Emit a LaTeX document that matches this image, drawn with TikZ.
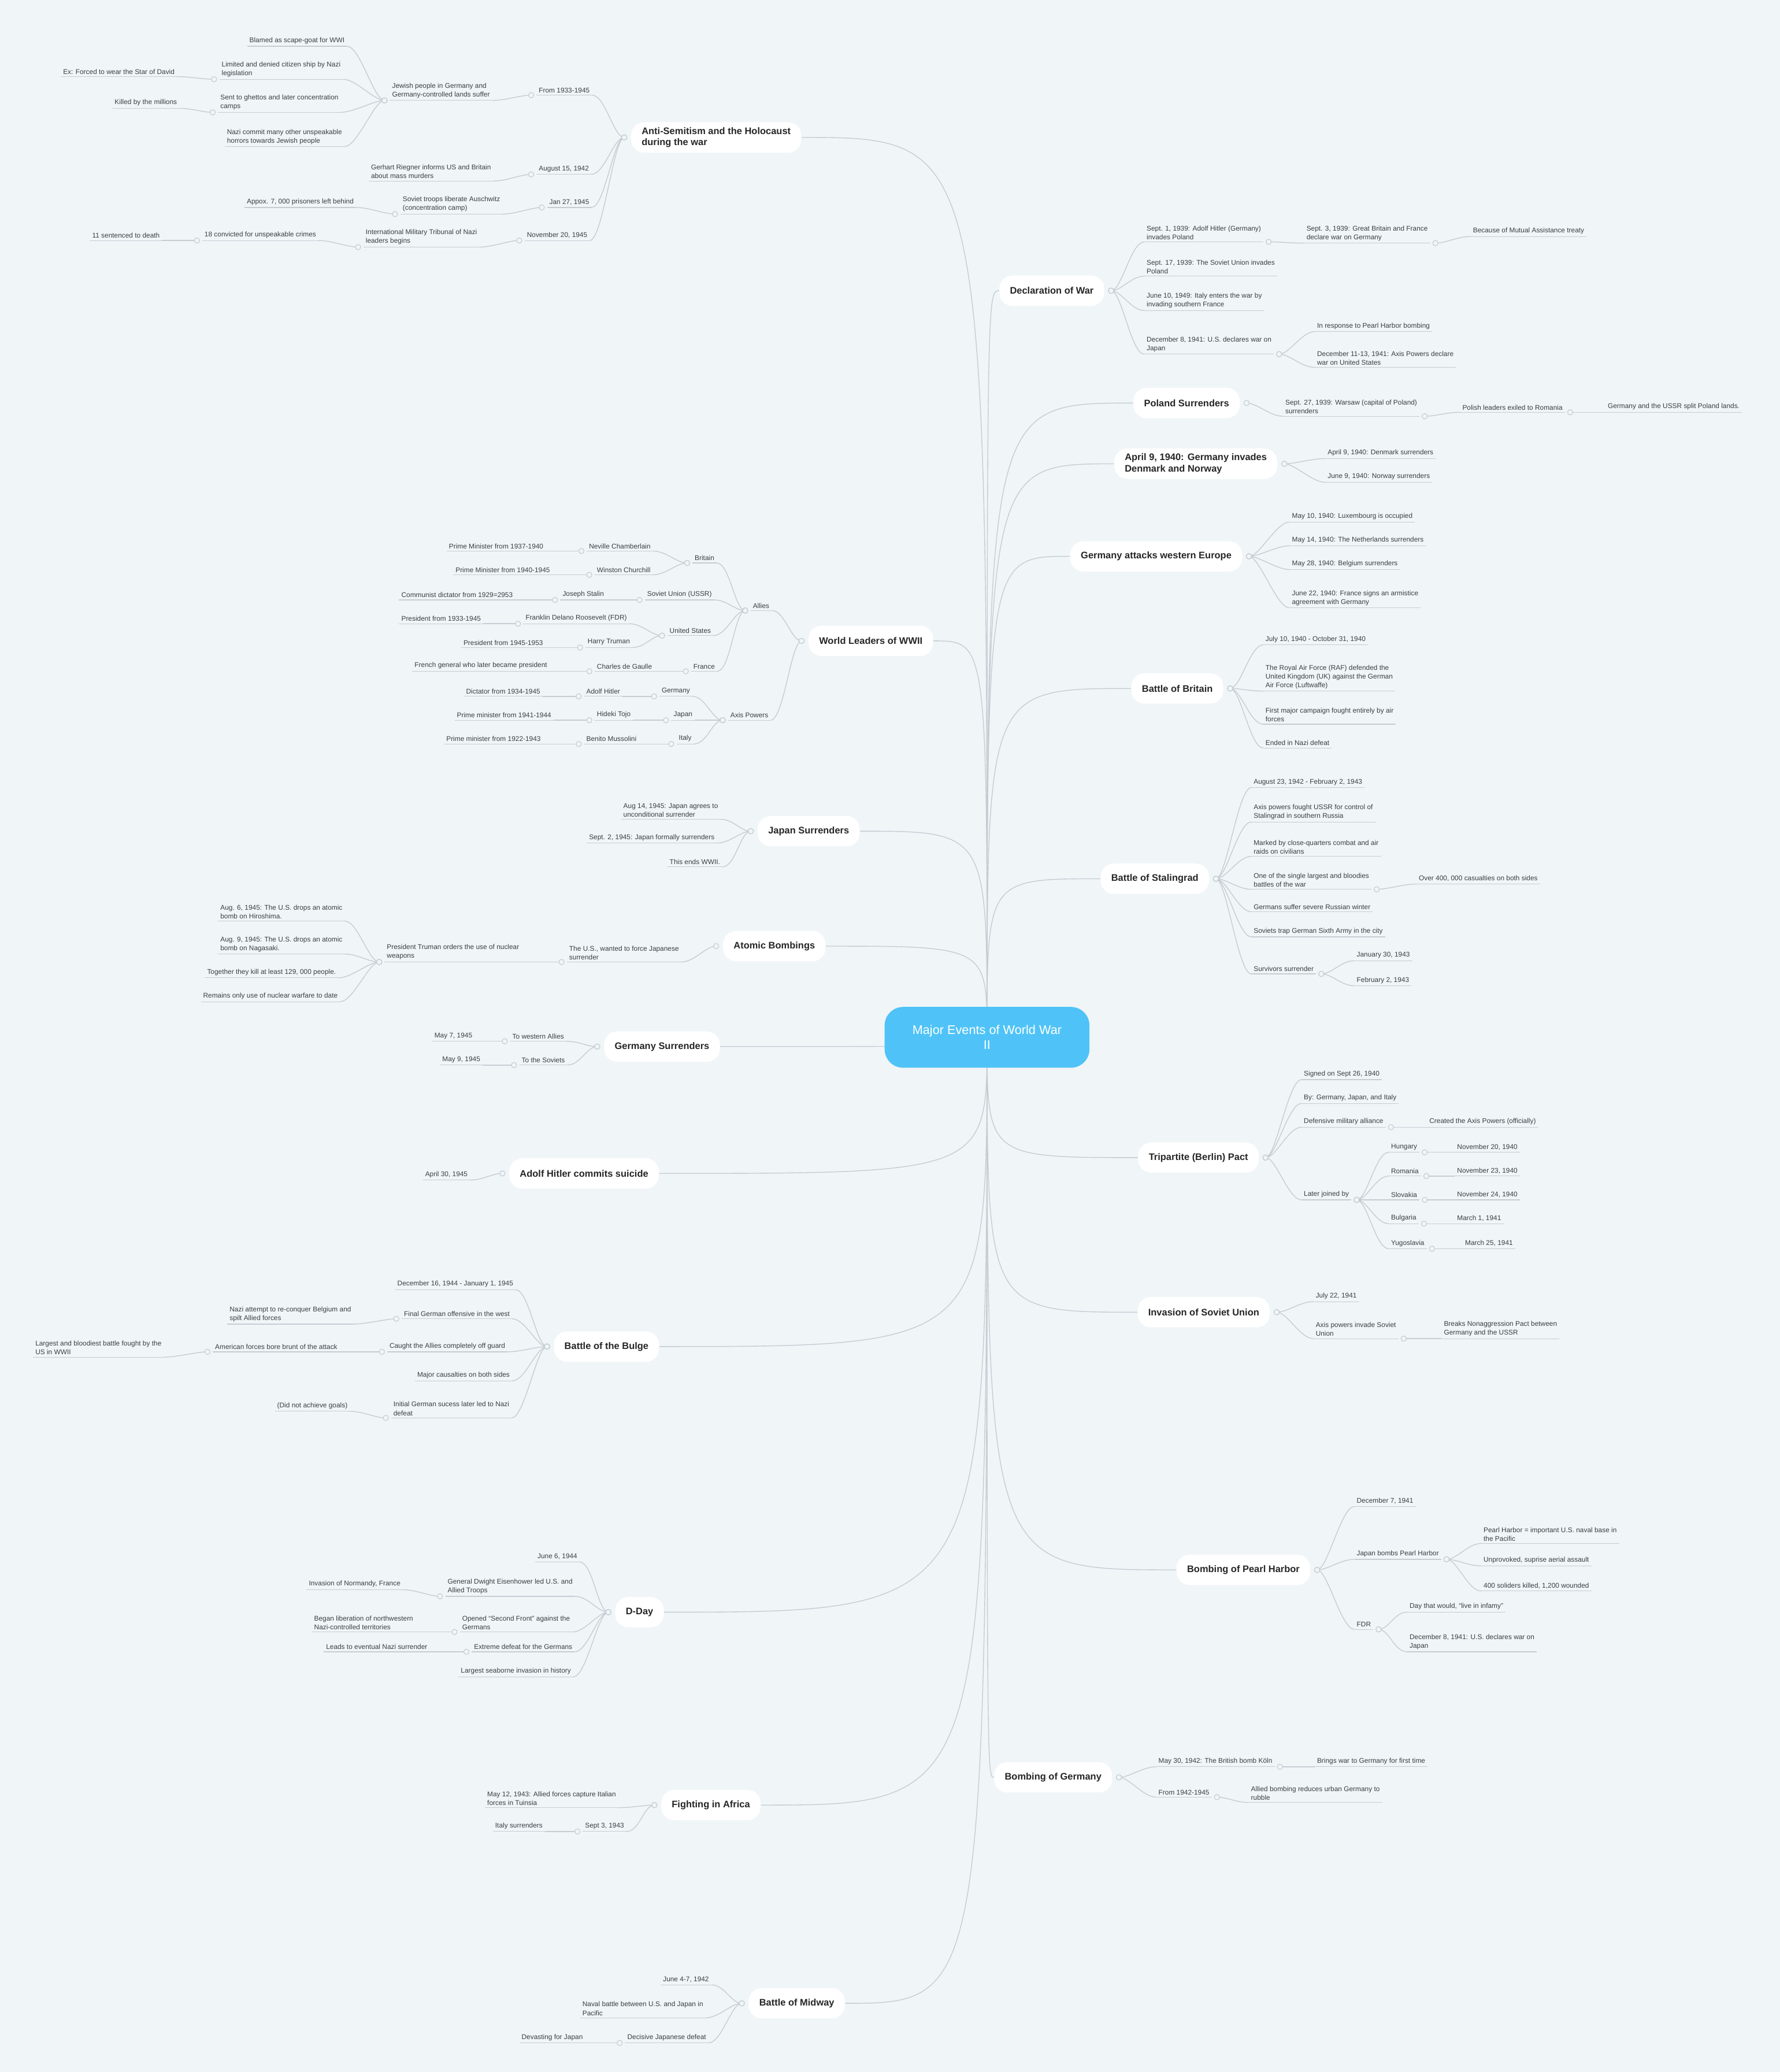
\documentclass[tikz,border=0pt]{standalone}
\usepackage{fontspec}
\setmainfont{Liberation Sans}
\usetikzlibrary{backgrounds}
\definecolor{bg}{HTML}{F0F5F8}
\definecolor{lc}{HTML}{C5CDD3}
\definecolor{cb}{HTML}{4FC3F7}
\definecolor{tx}{HTML}{3A3F44}
\tikzset{
 leaf/.style={anchor=south west,font=\fontsize{5.2}{6.6}\selectfont,text=tx,align=left,inner sep=1.6pt,
   append after command={(\tikzlastnode.south west) edge[draw=lc,line width=0.5pt] (\tikzlastnode.south east)}},
 topic/.style={fill=white,rounded corners=10pt,font=\bfseries\fontsize{7.2}{8.6}\selectfont,text=black!85,align=left,inner xsep=8pt,minimum height=23pt},
 con/.style={draw=lc,line width=0.6pt},
 dotc/.style={draw=lc,fill=bg,line width=0.5pt}
}
\newcommand\cR[2]{\draw[con] ([xshift=4pt]#1.south east) .. controls +(8,0) and +(-10,0) .. (#2.south west);\draw[dotc] ([xshift=4pt]#1.south east) circle (2);}
\newcommand\cL[2]{\draw[con] ([xshift=-4pt]#1.south west) .. controls +(-8,0) and +(10,0) .. (#2.south east);\draw[dotc] ([xshift=-4pt]#1.south west) circle (2);}
\newcommand\tR[2]{\draw[con] ([xshift=5pt]#1.east) .. controls +(8,0) and +(-10,0) .. (#2.south west);\draw[dotc] ([xshift=5pt]#1.east) circle (2);}
\newcommand\tL[2]{\draw[con] ([xshift=-5pt]#1.west) .. controls +(-8,0) and +(10,0) .. (#2.south east);\draw[dotc] ([xshift=-5pt]#1.west) circle (2);}
\newcommand\cenR[2]{\draw[con] (747,785) .. controls (747,#2) .. (#1.west);}
\newcommand\cenL[2]{\draw[con] (747,785) .. controls (747,#2) .. (#1.east);}
\newcommand\lf[4]{\node[leaf] (#1) at (#2,#3) {#4};}
\begin{document}
\begin{tikzpicture}[x=1pt,y=-1pt]
\begin{scope}[on background layer]
\fill[bg] (0,0) rectangle (1347,1568);
\end{scope}
\useasboundingbox (0,0) rectangle (1347,1568);
\node[fill=cb,rounded corners=14pt,minimum width=155pt,minimum height=46pt,align=center,text=white,font=\fontsize{9.5}{11.5}\selectfont] (C) at (747,785) {Major Events of World War\\II};
% topics
\node[topic] (D1) at (796,220) {Declaration of War};
\node[topic] (P) at (898,305) {Poland Surrenders};
\node[topic] (DN) at (905,351) {April 9, 1940: Germany invades\\Denmark and Norway};
\node[topic] (WE) at (875,421) {Germany attacks western Europe};
\node[topic] (BB) at (891,521) {Battle of Britain};
\node[topic] (BS) at (874,665) {Battle of Stalingrad};
\node[topic] (TP) at (907,876) {Tripartite (Berlin) Pact};
\node[topic] (IS) at (911,993) {Invasion of Soviet Union};
\node[topic] (PH) at (941,1188) {Bombing of Pearl Harbor};
\node[topic] (BG) at (797,1345) {Bombing of Germany};
\node[topic] (AS) at (542,104) {Anti-Semitism and the Holocaust\\during the war};
\node[topic] (WL) at (659,485) {World Leaders of WWII};
\node[topic] (JS) at (612,629) {Japan Surrenders};
\node[topic] (AB) at (586,716) {Atomic Bombings};
\node[topic] (GS) at (501,792) {Germany Surrenders};
\node[topic] (HS) at (442,888) {Adolf Hitler commits suicide};
\node[topic] (BU) at (459,1019) {Battle of the Bulge};
\node[topic] (DD) at (484,1220) {D-Day};
\node[topic] (FA) at (538,1366) {Fighting in Africa};
\node[topic] (BM) at (603,1516) {Battle of Midway};
% leaves right
\lf{d1}{866}{183}{Sept. 1, 1939: Adolf Hitler (Germany)\\invades Poland}
\lf{d11}{987}{184}{Sept. 3, 1939: Great Britain and France\\declare war on Germany}
\lf{d111}{1113}{179}{Because of Mutual Assistance treaty}
\lf{d2}{866}{209}{Sept. 17, 1939: The Soviet Union invades\\Poland}
\lf{d3}{866}{235}{June 10, 1949: Italy enters the war by\\invading southern France}
\lf{d4}{866}{268}{December 8, 1941: U.S. declares war on\\Japan}
\lf{d41}{995}{251}{In response to Pearl Harbor bombing}
\lf{d42}{995}{278}{December 11-13, 1941: Axis Powers declare\\war on United States}
\lf{p1}{971}{315}{Sept. 27, 1939: Warsaw (capital of Poland)\\surrenders}
\lf{p11}{1105}{312}{Polish leaders exiled to Romania}
\lf{p111}{1215}{312}{Germany and the USSR split Poland lands.}
\lf{n1}{1003}{347}{April 9, 1940: Denmark surrenders}
\lf{n2}{1003}{365}{June 9, 1940: Norway surrenders}
\lf{w1}{976}{395}{May 10, 1940: Luxembourg  is occupied}
\lf{w2}{976}{413}{May 14, 1940:  The Netherlands surrenders}
\lf{w3}{976}{431}{May 28, 1940: Belgium surrenders}
\lf{w4}{976}{460}{June 22, 1940: France signs an armistice\\agreement with Germany}
\lf{b1}{956}{488}{July 10, 1940 - October 31, 1940}
\lf{b2}{956}{523}{The Royal Air Force (RAF) defended the\\United Kingdom (UK) against the German\\Air Force (Luftwaffe)}
\lf{b3}{956}{548}{First major campaign fought entirely by air\\forces}
\lf{b4}{956}{566}{Ended in Nazi defeat}
\lf{s1}{947}{596}{August 23, 1942 - February 2, 1943}
\lf{s2}{947}{622}{Axis powers fought USSR for control of\\Stalingrad in southern Russia}
\lf{s3}{947}{648}{Marked by close-quarters combat and air\\raids on civilians}
\lf{s4}{947}{673}{One of the single largest and bloodies\\battles of the war}
\lf{s41}{1072}{669}{Over 400, 000 casualties on both sides}
\lf{s5}{947}{690}{Germans suffer severe Russian winter}
\lf{s6}{947}{709}{Soviets trap German Sixth Army in the city}
\lf{s7}{947}{737}{Survivors surrender}
\lf{s71}{1025}{727}{January 30, 1943}
\lf{s72}{1025}{746}{February 2, 1943}
\lf{t1}{985}{817}{Signed on Sept 26, 1940}
\lf{t2}{985}{835}{By: Germany, Japan, and Italy}
\lf{t3}{985}{853}{Defensive military alliance}
\lf{t31}{1080}{853}{Created the Axis Powers (officially)}
\lf{t4}{985}{908}{Later joined by}
\lf{t41}{1051}{872}{Hungary}
\lf{t42}{1051}{890}{Romania}
\lf{t43}{1051}{908}{Slovakia}
\lf{t44}{1051}{926}{Bulgaria}
\lf{t45}{1051}{945}{Yugoslavia}
\lf{t411}{1101}{872}{November 20, 1940}
\lf{t421}{1101}{890}{November 23, 1940}
\lf{t431}{1101}{908}{November 24, 1940}
\lf{t441}{1101}{926}{March 1, 1941}
\lf{t451}{1107}{945}{March 25, 1941}
\lf{i1}{994}{985}{July 22, 1941}
\lf{i2}{994}{1013}{Axis powers invade Soviet\\Union}
\lf{i21}{1091}{1013}{Breaks Nonaggression Pact between\\Germany and the USSR}
\lf{h1}{1025}{1140}{December 7, 1941}
\lf{h2}{1025}{1180}{Japan bombs Pearl Harbor}
\lf{h21}{1121}{1168}{Pearl Harbor = important U.S. naval base in\\the Pacific}
\lf{h22}{1121}{1185}{Unprovoked, suprise aerial assault}
\lf{h23}{1121}{1204}{400 soliders killed, 1,200 wounded}
\lf{h3}{1025}{1233}{FDR}
\lf{h31}{1065}{1220}{Day that would, “live in infamy”}
\lf{h32}{1065}{1250}{December 8, 1941: U.S. declares war on\\Japan}
\lf{g1}{875}{1337}{May 30, 1942: The British bomb Köln}
\lf{g11}{995}{1337}{Brings war to Germany for first time}
\lf{g2}{875}{1360}{From 1942-1945}
\lf{g21}{945}{1364}{Allied bombing reduces urban Germany to\\rubble}
% leaves left
\lf{a1}{406}{72}{From 1933-1945}
\lf{a11}{295}{76}{Jewish people in Germany and\\Germany-controlled lands suffer}
\lf{a111}{187}{35}{Blamed as scape-goat for WWI}
\lf{a112}{166}{60}{Limited and denied citizen ship by Nazi\\legislation}
\lf{a1121}{46}{58}{Ex: Forced to wear the Star of David}
\lf{a113}{165}{85}{Sent to ghettos and later concentration\\camps}
\lf{a1131}{85}{82}{Killed by the millions}
\lf{a114}{170}{111}{Nazi commit many other unspeakable\\horrors towards Jewish people}
\lf{a2}{406}{132}{August 15, 1942}
\lf{a21}{279}{137}{Gerhart Riegner informs US and Britain\\about mass murders}
\lf{a3}{414}{157}{Jan 27, 1945}
\lf{a31}{303}{162}{Soviet troops liberate Auschwitz\\(concentration camp)}
\lf{a311}{185}{157}{Appox. 7, 000 prisoners left behind}
\lf{a4}{397}{182}{November 20, 1945}
\lf{a41}{275}{187}{International Military Tribunal of Nazi\\leaders begins}
\lf{a411}{153}{182}{18 convicted for unspeakable crimes}
\lf{a4111}{68}{182}{11 sentenced to death}
\lf{l1}{568}{462}{Allies}
\lf{l2}{551}{545}{Axis Powers}
\lf{l11}{524}{426}{Britain}
\lf{l12}{488}{454}{Soviet Union (USSR)}
\lf{l13}{505}{481}{United States}
\lf{l14}{523}{508}{France}
\lf{l111}{444}{417}{Neville Chamberlain}
\lf{l1111}{338}{417}{Prime Minister from 1937-1940}
\lf{l112}{450}{435}{Winston Churchill}
\lf{l1121}{343}{435}{Prime Minister from 1940-1945}
\lf{l121}{424}{454}{Joseph Stalin}
\lf{l1211}{302}{454}{Communist dictator from 1929=2953}
\lf{l131}{396}{472}{Franklin Delano Roosevelt (FDR)}
\lf{l1311}{302}{472}{President from 1933-1945}
\lf{l132}{443}{490}{Harry Truman}
\lf{l1321}{349}{490}{President from 1945-1953}
\lf{l141}{450}{508}{Charles de Gaulle}
\lf{l1411}{312}{508}{French general who later became president}
\lf{l21}{499}{527}{Germany}
\lf{l211}{442}{527}{Adolf Hitler}
\lf{l2111}{351}{527}{Dictator from 1934-1945}
\lf{l22}{508}{545}{Japan}
\lf{l221}{450}{545}{Hideki Tojo}
\lf{l2211}{344}{545}{Prime minister from 1941-1944}
\lf{l23}{512}{563}{Italy}
\lf{l231}{442}{563}{Benito Mussolini}
\lf{l2311}{336}{563}{Prime minister from 1922-1943}
\lf{j1}{470}{620}{Aug 14, 1945: Japan agrees to\\unconditional surrender}
\lf{j2}{444}{638}{Sept. 2, 1945: Japan formally surrenders}
\lf{j3}{505}{656}{This ends WWII.}
\lf{o1}{429}{728}{The U.S., wanted to force Japanese\\surrender}
\lf{o11}{291}{728}{President Truman orders the use of nuclear\\weapons}
\lf{o111}{165}{697}{Aug. 6, 1945: The U.S. drops an atomic\\bomb on Hiroshima.}
\lf{o112}{165}{722}{Aug. 9, 1945: The U.S. drops an atomic\\bomb on Nagasaki.}
\lf{o113}{155}{740}{Together they kill at least 129, 000 people.}
\lf{o114}{152}{758}{Remains only use of nuclear warfare to date}
\lf{e1}{386}{788}{To western Allies}
\lf{e11}{327}{788}{May 7, 1945}
\lf{e2}{393}{806}{To the Soviets}
\lf{e21}{333}{806}{May 9, 1945}
\lf{k1}{320}{893}{April 30, 1945}
\lf{u1}{299}{976}{December 16, 1944 - January 1, 1945}
\lf{u2}{304}{998}{Final German offensive in the west}
\lf{u21}{172}{1002}{Nazi attempt to re-conquer Belgium and\\spilt Allied forces}
\lf{u3}{293}{1023}{Caught the Allies completely off guard}
\lf{u31}{161}{1023}{American forces bore brunt of the attack}
\lf{u311}{25}{1027}{Largest and bloodiest battle fought by the\\US in WWII}
\lf{u4}{314}{1045}{Major causalties on both sides}
\lf{u5}{296}{1073}{Initial German sucess later led to Nazi\\defeat}
\lf{u51}{208}{1068}{(Did not achieve goals)}
\lf{y1}{405}{1182}{June 6, 1944}
\lf{y2}{337}{1208}{General Dwight Eisenhower led U.S. and\\Allied Troops}
\lf{y21}{232}{1203}{Invasion of Normandy, France}
\lf{y3}{348}{1235}{Opened “Second Front” against the\\Germans}
\lf{y31}{236}{1235}{Began liberation of northwestern\\Nazi-controlled territories}
\lf{y4}{357}{1250}{Extreme defeat for the Germans}
\lf{y41}{245}{1250}{Leads to eventual Nazi surrender}
\lf{y5}{347}{1269}{Largest seaborne invasion in history}
\lf{f1}{367}{1368}{May 12, 1943: Allied forces capture Italian\\forces in Tuinsia}
\lf{f2}{441}{1386}{Sept 3, 1943}
\lf{f21}{373}{1386}{Italy surrenders}
\lf{m1}{500}{1502}{June 4-7, 1942}
\lf{m2}{439}{1527}{Naval battle between U.S. and Japan in\\Pacific}
\lf{m3}{473}{1546}{Decisive Japanese defeat}
\lf{m31}{393}{1546}{Devasting for Japan}
\begin{scope}[on background layer]
\cenR{D1}{220}\cenR{P}{305}\cenR{DN}{351}\cenR{WE}{421}\cenR{BB}{521}\cenR{BS}{665}
\cenR{TP}{876}\cenR{IS}{993}\cenR{PH}{1188}\cenR{BG}{1345}
\cenL{AS}{104}\cenL{WL}{485}\cenL{JS}{629}\cenL{AB}{716}\cenL{GS}{792}\cenL{HS}{888}
\cenL{BU}{1019}\cenL{DD}{1220}\cenL{FA}{1366}\cenL{BM}{1516}
\tR{D1}{d1}\tR{D1}{d2}\tR{D1}{d3}\tR{D1}{d4}\cR{d1}{d11}\cR{d11}{d111}\cR{d4}{d41}\cR{d4}{d42}
\tR{P}{p1}\cR{p1}{p11}\cR{p11}{p111}
\tR{DN}{n1}\tR{DN}{n2}
\tR{WE}{w1}\tR{WE}{w2}\tR{WE}{w3}\tR{WE}{w4}
\tR{BB}{b1}\tR{BB}{b2}\tR{BB}{b3}\tR{BB}{b4}
\tR{BS}{s1}\tR{BS}{s2}\tR{BS}{s3}\tR{BS}{s4}\tR{BS}{s5}\tR{BS}{s6}\tR{BS}{s7}\cR{s4}{s41}\cR{s7}{s71}\cR{s7}{s72}
\tR{TP}{t1}\tR{TP}{t2}\tR{TP}{t3}\tR{TP}{t4}\cR{t3}{t31}
\cR{t4}{t41}\cR{t4}{t42}\cR{t4}{t43}\cR{t4}{t44}\cR{t4}{t45}
\cR{t41}{t411}\cR{t42}{t421}\cR{t43}{t431}\cR{t44}{t441}\cR{t45}{t451}
\tR{IS}{i1}\tR{IS}{i2}\cR{i2}{i21}
\tR{PH}{h1}\tR{PH}{h2}\tR{PH}{h3}\cR{h2}{h21}\cR{h2}{h22}\cR{h2}{h23}\cR{h3}{h31}\cR{h3}{h32}
\tR{BG}{g1}\tR{BG}{g2}\cR{g1}{g11}\cR{g2}{g21}
\tL{AS}{a1}\tL{AS}{a2}\tL{AS}{a3}\tL{AS}{a4}
\cL{a1}{a11}\cL{a11}{a111}\cL{a11}{a112}\cL{a11}{a113}\cL{a11}{a114}\cL{a112}{a1121}\cL{a113}{a1131}
\cL{a2}{a21}\cL{a3}{a31}\cL{a31}{a311}\cL{a4}{a41}\cL{a41}{a411}\cL{a411}{a4111}
\tL{WL}{l1}\tL{WL}{l2}\cL{l1}{l11}\cL{l1}{l12}\cL{l1}{l13}\cL{l1}{l14}
\cL{l11}{l111}\cL{l11}{l112}\cL{l111}{l1111}\cL{l112}{l1121}\cL{l12}{l121}\cL{l121}{l1211}
\cL{l13}{l131}\cL{l13}{l132}\cL{l131}{l1311}\cL{l132}{l1321}\cL{l14}{l141}\cL{l141}{l1411}
\cL{l2}{l21}\cL{l2}{l22}\cL{l2}{l23}\cL{l21}{l211}\cL{l211}{l2111}\cL{l22}{l221}\cL{l221}{l2211}\cL{l23}{l231}\cL{l231}{l2311}
\tL{JS}{j1}\tL{JS}{j2}\tL{JS}{j3}
\tL{AB}{o1}\cL{o1}{o11}\cL{o11}{o111}\cL{o11}{o112}\cL{o11}{o113}\cL{o11}{o114}
\tL{GS}{e1}\tL{GS}{e2}\cL{e1}{e11}\cL{e2}{e21}
\tL{HS}{k1}
\tL{BU}{u1}\tL{BU}{u2}\tL{BU}{u3}\tL{BU}{u4}\tL{BU}{u5}\cL{u2}{u21}\cL{u3}{u31}\cL{u31}{u311}\cL{u5}{u51}
\tL{DD}{y1}\tL{DD}{y2}\tL{DD}{y3}\tL{DD}{y4}\tL{DD}{y5}\cL{y2}{y21}\cL{y3}{y31}\cL{y4}{y41}
\tL{FA}{f1}\tL{FA}{f2}\cL{f2}{f21}
\tL{BM}{m1}\tL{BM}{m2}\tL{BM}{m3}\cL{m3}{m31}
\end{scope}
\end{tikzpicture}
\end{document}
